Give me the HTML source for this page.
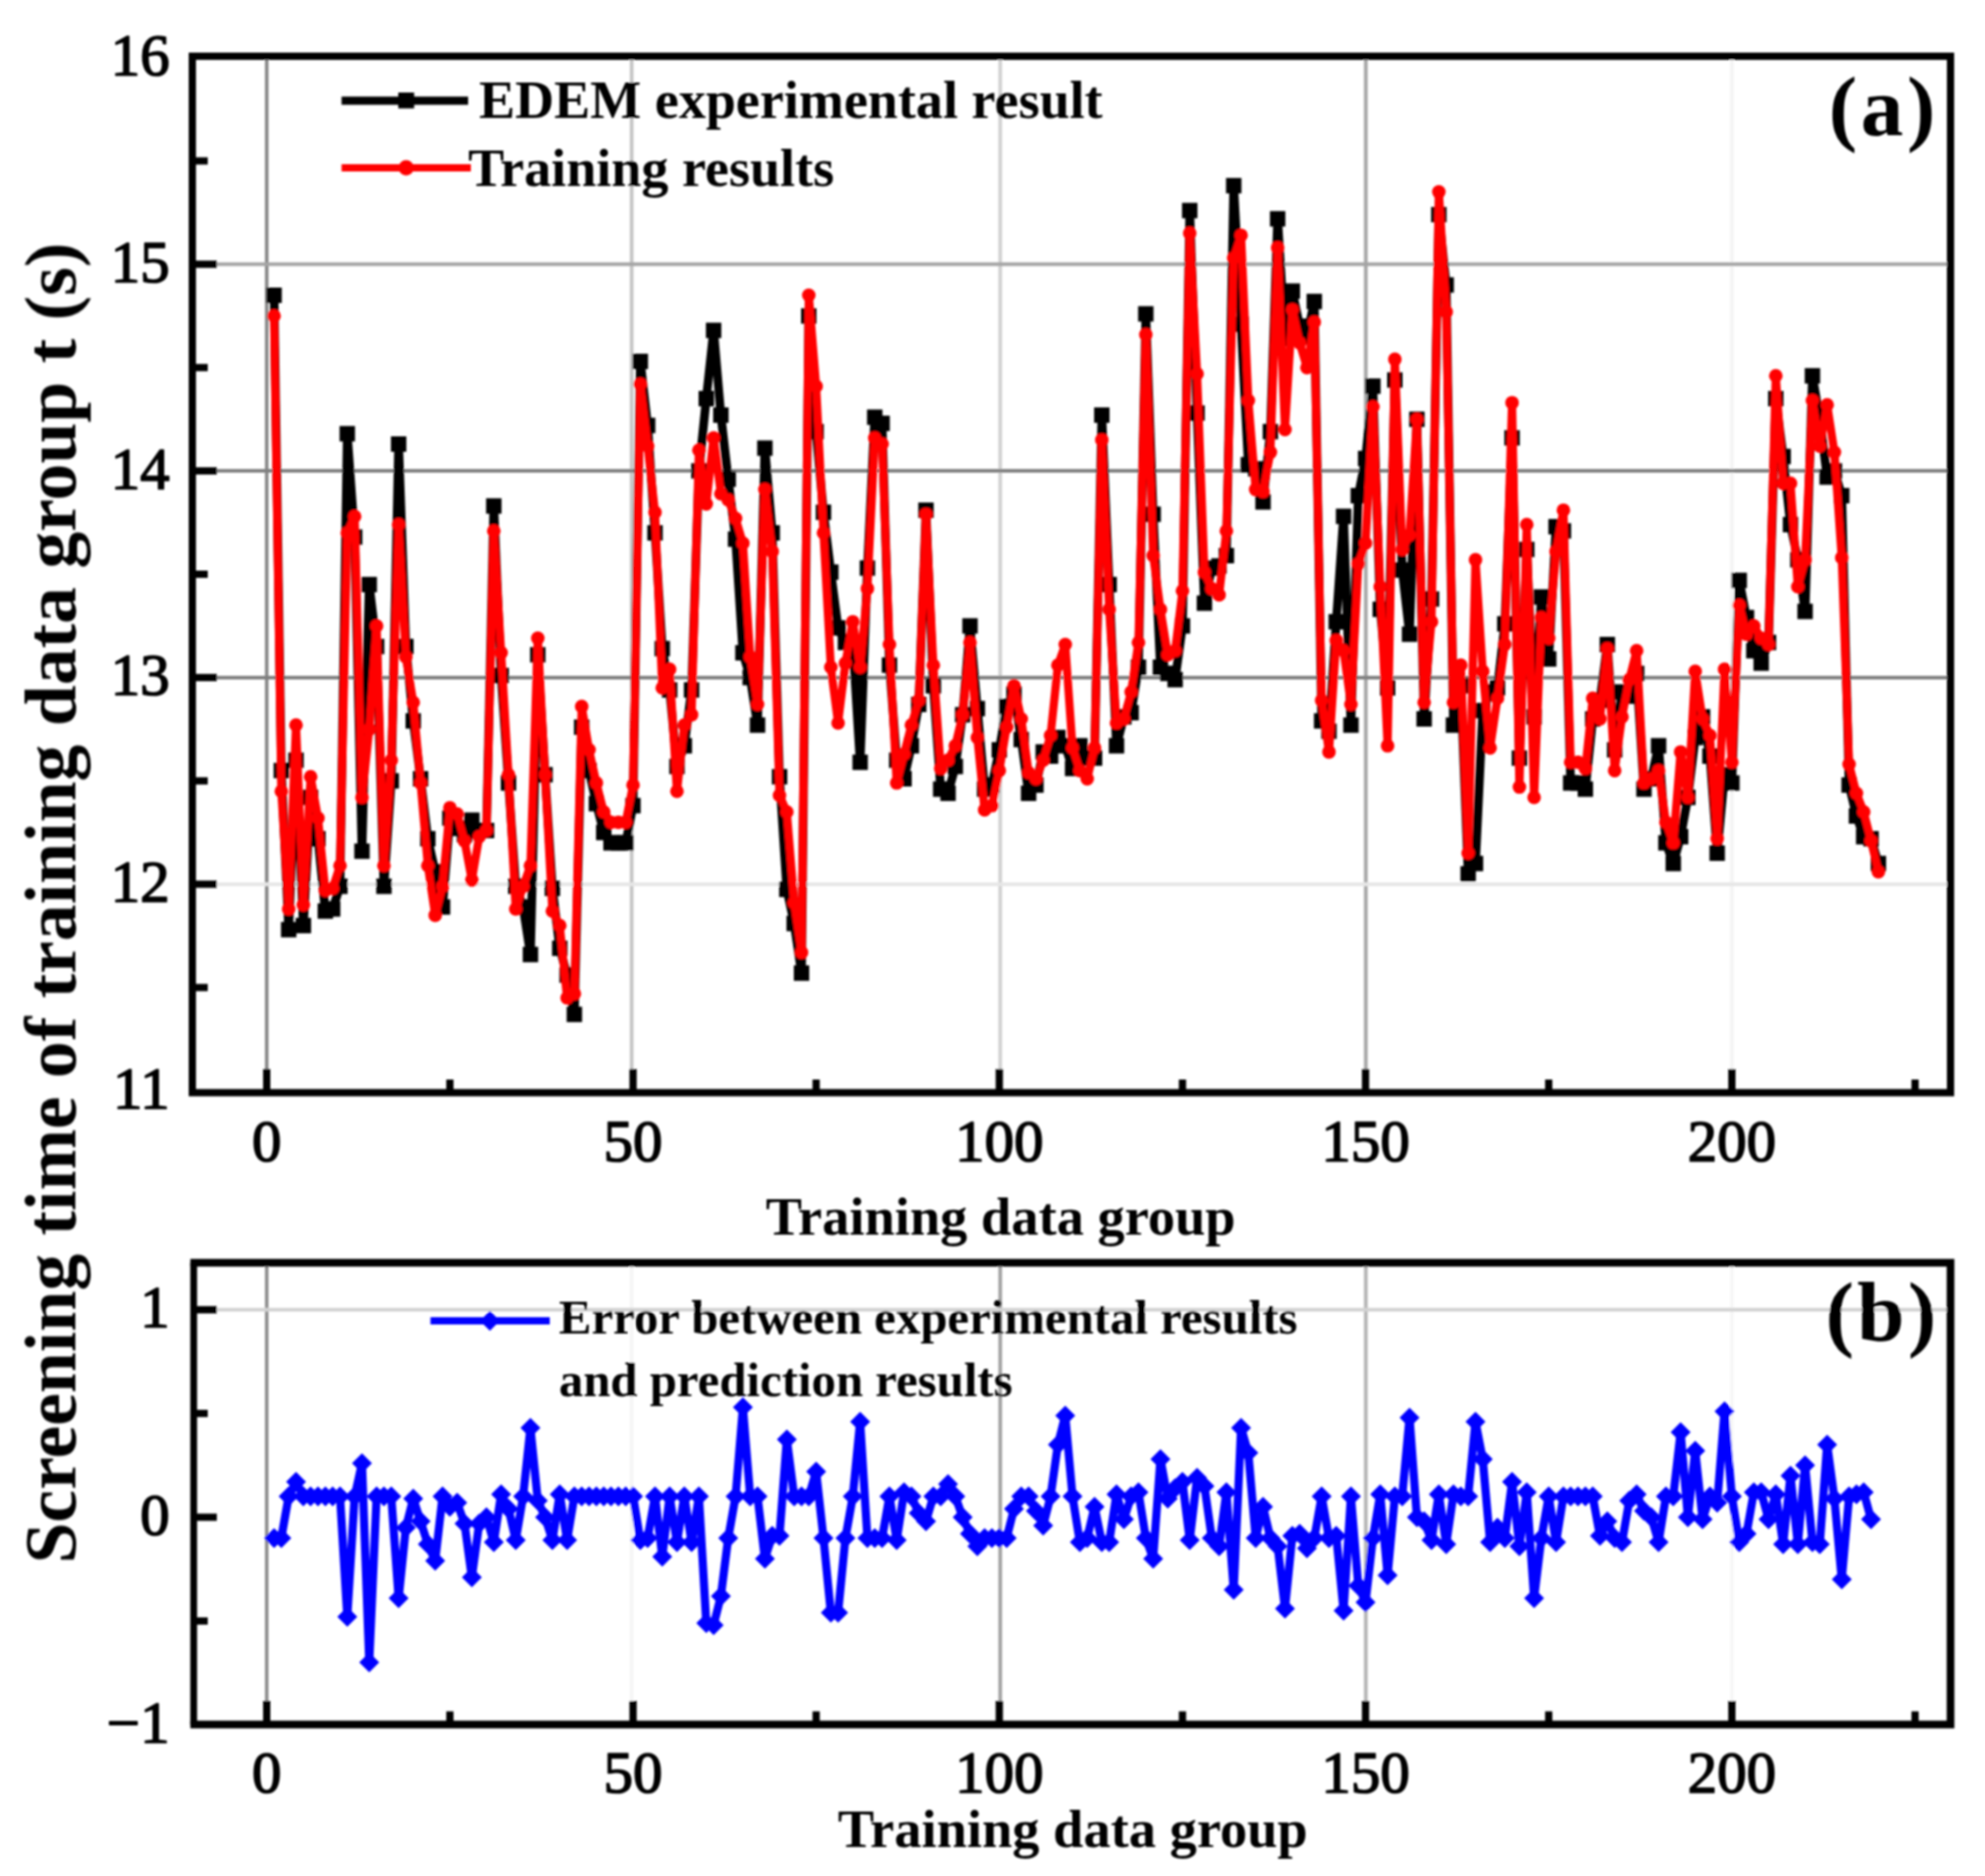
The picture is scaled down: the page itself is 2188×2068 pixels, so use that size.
<!DOCTYPE html>
<html><head><meta charset="utf-8"><title>Training results</title>
<style>
html,body{margin:0;padding:0;background:#fff;}
svg{display:block;}
text{font-family:"Liberation Serif","DejaVu Serif",serif;fill:#000;}
.b{font-weight:bold;}
.tk{font-size:65px;stroke:#000;stroke-width:1.7px;stroke-linejoin:round;}
</style></head><body>
<svg width="2188" height="2068" viewBox="0 0 2188 2068">
<defs><filter id="soft" filterUnits="userSpaceOnUse" x="0" y="0" width="2188" height="2068"><feGaussianBlur stdDeviation="1.3"/></filter></defs>
<rect width="2188" height="2068" fill="#fff"/>
<g filter="url(#soft)">

<g id="grid-top">
<line x1="294.0" y1="62" x2="294.0" y2="1204.5" stroke="#8a8a8a" stroke-width="4"/>
<line x1="696.3" y1="62" x2="696.3" y2="1204.5" stroke="#c4c4c4" stroke-width="4"/>
<line x1="1102.5" y1="62" x2="1102.5" y2="1204.5" stroke="#d0d0d0" stroke-width="4"/>
<line x1="1505.5" y1="62" x2="1505.5" y2="1204.5" stroke="#a4a4a4" stroke-width="4"/>
<line x1="1909.0" y1="62" x2="1909.0" y2="1204.5" stroke="#f4f4f4" stroke-width="4"/>
<line x1="212" y1="291.3" x2="2150" y2="291.3" stroke="#a4a4a4" stroke-width="4"/>
<line x1="212" y1="519.1" x2="2150" y2="519.1" stroke="#808080" stroke-width="4"/>
<line x1="212" y1="746.9" x2="2150" y2="746.9" stroke="#808080" stroke-width="4"/>
<line x1="212" y1="974.7" x2="2150" y2="974.7" stroke="#e6e6e6" stroke-width="4"/>
</g>
<g id="grid-bottom">
<line x1="294.0" y1="1392" x2="294.0" y2="1901" stroke="#909090" stroke-width="4"/>
<line x1="696.3" y1="1392" x2="696.3" y2="1901" stroke="#f5f5f5" stroke-width="4"/>
<line x1="1102.5" y1="1392" x2="1102.5" y2="1901" stroke="#a0a0a0" stroke-width="4"/>
<line x1="1505.5" y1="1392" x2="1505.5" y2="1901" stroke="#b4b4b4" stroke-width="4"/>
<line x1="1909.0" y1="1392" x2="1909.0" y2="1901" stroke="#f7f7f7" stroke-width="4"/>
<line x1="212" y1="1443.8" x2="2150" y2="1443.8" stroke="#d2d2d2" stroke-width="4"/>
</g>
<g id="ticks">
<line x1="294.0" y1="1204.5" x2="294.0" y2="1178.5" stroke="#000" stroke-width="8"/>
<line x1="495.9" y1="1204.5" x2="495.9" y2="1190.0" stroke="#000" stroke-width="8"/>
<line x1="697.8" y1="1204.5" x2="697.8" y2="1178.5" stroke="#000" stroke-width="8"/>
<line x1="899.6" y1="1204.5" x2="899.6" y2="1190.0" stroke="#000" stroke-width="8"/>
<line x1="1101.5" y1="1204.5" x2="1101.5" y2="1178.5" stroke="#000" stroke-width="8"/>
<line x1="1303.4" y1="1204.5" x2="1303.4" y2="1190.0" stroke="#000" stroke-width="8"/>
<line x1="1505.2" y1="1204.5" x2="1505.2" y2="1178.5" stroke="#000" stroke-width="8"/>
<line x1="1707.1" y1="1204.5" x2="1707.1" y2="1190.0" stroke="#000" stroke-width="8"/>
<line x1="1909.0" y1="1204.5" x2="1909.0" y2="1178.5" stroke="#000" stroke-width="8"/>
<line x1="2110.9" y1="1204.5" x2="2110.9" y2="1190.0" stroke="#000" stroke-width="8"/>
<line x1="212" y1="974.7" x2="239" y2="974.7" stroke="#000" stroke-width="8"/>
<line x1="212" y1="746.9" x2="239" y2="746.9" stroke="#000" stroke-width="8"/>
<line x1="212" y1="519.1" x2="239" y2="519.1" stroke="#000" stroke-width="8"/>
<line x1="212" y1="291.3" x2="239" y2="291.3" stroke="#000" stroke-width="8"/>
<line x1="212" y1="1088.6" x2="229" y2="1088.6" stroke="#000" stroke-width="8"/>
<line x1="212" y1="860.8" x2="229" y2="860.8" stroke="#000" stroke-width="8"/>
<line x1="212" y1="633.0" x2="229" y2="633.0" stroke="#000" stroke-width="8"/>
<line x1="212" y1="405.2" x2="229" y2="405.2" stroke="#000" stroke-width="8"/>
<line x1="212" y1="177.4" x2="229" y2="177.4" stroke="#000" stroke-width="8"/>
<line x1="294.0" y1="1901" x2="294.0" y2="1875" stroke="#000" stroke-width="8"/>
<line x1="495.9" y1="1901" x2="495.9" y2="1886.5" stroke="#000" stroke-width="8"/>
<line x1="697.8" y1="1901" x2="697.8" y2="1875" stroke="#000" stroke-width="8"/>
<line x1="899.6" y1="1901" x2="899.6" y2="1886.5" stroke="#000" stroke-width="8"/>
<line x1="1101.5" y1="1901" x2="1101.5" y2="1875" stroke="#000" stroke-width="8"/>
<line x1="1303.4" y1="1901" x2="1303.4" y2="1886.5" stroke="#000" stroke-width="8"/>
<line x1="1505.2" y1="1901" x2="1505.2" y2="1875" stroke="#000" stroke-width="8"/>
<line x1="1707.1" y1="1901" x2="1707.1" y2="1886.5" stroke="#000" stroke-width="8"/>
<line x1="1909.0" y1="1901" x2="1909.0" y2="1875" stroke="#000" stroke-width="8"/>
<line x1="2110.9" y1="1901" x2="2110.9" y2="1886.5" stroke="#000" stroke-width="8"/>
<line x1="212" y1="1672.5" x2="239" y2="1672.5" stroke="#000" stroke-width="8"/>
<line x1="212" y1="1443.8" x2="239" y2="1443.8" stroke="#000" stroke-width="8"/>
<line x1="212" y1="1786.9" x2="229" y2="1786.9" stroke="#000" stroke-width="8"/>
<line x1="212" y1="1558.1" x2="229" y2="1558.1" stroke="#000" stroke-width="8"/>
</g>
<g id="series-edem">
<polyline points="302.1,325.5 310.1,849.4 318.2,1024.8 326.3,838.0 334.4,1020.3 342.4,879.0 350.5,924.6 358.6,1004.3 366.7,1002.0 374.8,977.0 382.8,478.1 390.9,592.0 399.0,938.3 407.0,644.4 415.1,712.7 423.2,977.0 431.3,860.8 439.4,489.5 447.4,712.7 455.5,794.7 463.6,858.5 471.6,924.6 479.7,961.0 487.8,999.8 495.9,901.8 503.9,913.2 512.0,920.0 520.1,904.1 528.2,915.5 536.2,915.5 544.3,557.8 552.4,744.6 560.5,863.1 568.5,977.0 576.6,999.8 584.7,1052.2 592.8,721.8 600.8,854.0 608.9,979.3 617.0,1045.3 625.1,1074.9 633.1,1118.2 641.2,801.6 649.3,849.4 657.4,885.9 665.5,917.8 673.5,929.1 681.6,929.1 689.7,929.1 697.8,888.1 705.8,398.4 713.9,469.0 722.0,587.4 730.0,715.0 738.1,760.6 746.2,844.9 754.3,822.1 762.3,760.6 770.4,519.1 778.5,439.4 786.6,364.2 794.6,457.6 802.7,528.2 810.8,594.3 818.9,719.6 826.9,746.9 835.0,799.3 843.1,494.0 851.2,587.4 859.2,856.2 867.3,980.4 875.4,1018.0 883.5,1072.7 891.5,348.2 899.6,475.8 907.7,564.7 915.8,630.7 923.8,692.2 931.9,708.2 940.0,708.2 948.1,840.3 956.1,626.2 964.2,459.9 972.3,466.7 980.4,733.2 988.4,838.0 996.5,858.5 1004.6,822.1 1012.7,776.5 1020.7,562.4 1028.8,756.0 1036.9,869.9 1045.0,874.5 1053.0,844.9 1061.1,787.9 1069.2,690.0 1077.3,781.1 1085.3,869.9 1093.4,865.4 1101.5,826.6 1109.6,778.8 1117.7,765.1 1125.7,815.2 1133.8,874.5 1141.9,865.4 1149.9,828.9 1158.0,833.5 1166.1,813.0 1174.2,822.1 1182.2,847.1 1190.3,822.1 1198.4,835.7 1206.5,835.7 1214.5,457.6 1222.6,644.4 1230.7,822.1 1238.8,790.2 1246.8,785.6 1254.9,735.5 1263.0,346.0 1271.1,566.9 1279.1,735.5 1287.2,742.3 1295.3,749.2 1303.4,690.0 1311.4,232.1 1319.5,455.3 1327.6,664.9 1335.7,626.2 1343.8,623.9 1351.8,612.5 1359.9,204.7 1368.0,357.4 1376.0,512.3 1384.1,516.8 1392.2,553.3 1400.3,475.8 1408.3,241.2 1416.4,373.3 1424.5,320.9 1432.6,359.6 1440.6,371.0 1448.7,332.3 1456.8,794.7 1464.9,806.1 1472.9,685.4 1481.0,569.2 1489.1,799.3 1497.2,546.4 1505.2,505.4 1513.3,425.7 1521.4,671.7 1529.5,758.3 1537.5,418.9 1545.6,628.4 1553.7,699.1 1561.8,462.2 1569.8,792.5 1577.9,660.3 1586.0,236.6 1594.1,314.1 1602.1,799.3 1610.2,756.0 1618.3,963.3 1626.4,951.9 1634.4,783.3 1642.5,762.8 1650.6,758.3 1658.7,687.7 1666.7,482.7 1674.8,835.7 1682.9,605.7 1691.0,790.2 1699.0,658.1 1707.1,726.4 1715.2,580.6 1723.3,585.2 1731.3,863.1 1739.4,863.1 1747.5,869.9 1755.6,792.5 1763.6,772.0 1771.7,710.5 1779.8,826.6 1787.9,762.8 1795.9,767.4 1804.0,742.3 1812.1,869.9 1820.2,858.5 1828.2,822.1 1836.3,929.1 1844.4,951.9 1852.5,922.3 1860.5,879.0 1868.6,813.0 1876.7,790.2 1884.8,833.5 1892.8,940.5 1900.9,854.0 1909.0,863.1 1917.1,639.8 1925.1,680.8 1933.2,717.3 1941.3,731.0 1949.4,708.2 1957.4,439.4 1965.5,503.2 1973.6,578.3 1981.7,617.1 1989.7,674.0 1997.8,414.3 2005.9,462.2 2014.0,525.9 2022.0,519.1 2030.1,546.4 2038.2,865.4 2046.3,899.5 2054.3,922.3 2062.4,924.6 2070.5,951.9" fill="none" stroke="#000" stroke-width="9.5" stroke-linejoin="round" stroke-linecap="round"/>
<rect x="293.6" y="317.0" width="17" height="17" fill="#000"/>
<rect x="301.6" y="840.9" width="17" height="17" fill="#000"/>
<rect x="309.7" y="1016.3" width="17" height="17" fill="#000"/>
<rect x="317.8" y="829.5" width="17" height="17" fill="#000"/>
<rect x="325.9" y="1011.8" width="17" height="17" fill="#000"/>
<rect x="333.9" y="870.5" width="17" height="17" fill="#000"/>
<rect x="342.0" y="916.1" width="17" height="17" fill="#000"/>
<rect x="350.1" y="995.8" width="17" height="17" fill="#000"/>
<rect x="358.2" y="993.5" width="17" height="17" fill="#000"/>
<rect x="366.2" y="968.5" width="17" height="17" fill="#000"/>
<rect x="374.3" y="469.6" width="17" height="17" fill="#000"/>
<rect x="382.4" y="583.5" width="17" height="17" fill="#000"/>
<rect x="390.5" y="929.8" width="17" height="17" fill="#000"/>
<rect x="398.5" y="635.9" width="17" height="17" fill="#000"/>
<rect x="406.6" y="704.2" width="17" height="17" fill="#000"/>
<rect x="414.7" y="968.5" width="17" height="17" fill="#000"/>
<rect x="422.8" y="852.3" width="17" height="17" fill="#000"/>
<rect x="430.9" y="481.0" width="17" height="17" fill="#000"/>
<rect x="438.9" y="704.2" width="17" height="17" fill="#000"/>
<rect x="447.0" y="786.2" width="17" height="17" fill="#000"/>
<rect x="455.1" y="850.0" width="17" height="17" fill="#000"/>
<rect x="463.1" y="916.1" width="17" height="17" fill="#000"/>
<rect x="471.2" y="952.5" width="17" height="17" fill="#000"/>
<rect x="479.3" y="991.3" width="17" height="17" fill="#000"/>
<rect x="487.4" y="893.3" width="17" height="17" fill="#000"/>
<rect x="495.4" y="904.7" width="17" height="17" fill="#000"/>
<rect x="503.5" y="911.5" width="17" height="17" fill="#000"/>
<rect x="511.6" y="895.6" width="17" height="17" fill="#000"/>
<rect x="519.7" y="907.0" width="17" height="17" fill="#000"/>
<rect x="527.8" y="907.0" width="17" height="17" fill="#000"/>
<rect x="535.8" y="549.3" width="17" height="17" fill="#000"/>
<rect x="543.9" y="736.1" width="17" height="17" fill="#000"/>
<rect x="552.0" y="854.6" width="17" height="17" fill="#000"/>
<rect x="560.0" y="968.5" width="17" height="17" fill="#000"/>
<rect x="568.1" y="991.3" width="17" height="17" fill="#000"/>
<rect x="576.2" y="1043.7" width="17" height="17" fill="#000"/>
<rect x="584.3" y="713.3" width="17" height="17" fill="#000"/>
<rect x="592.3" y="845.5" width="17" height="17" fill="#000"/>
<rect x="600.4" y="970.8" width="17" height="17" fill="#000"/>
<rect x="608.5" y="1036.8" width="17" height="17" fill="#000"/>
<rect x="616.6" y="1066.4" width="17" height="17" fill="#000"/>
<rect x="624.6" y="1109.7" width="17" height="17" fill="#000"/>
<rect x="632.7" y="793.1" width="17" height="17" fill="#000"/>
<rect x="640.8" y="840.9" width="17" height="17" fill="#000"/>
<rect x="648.9" y="877.4" width="17" height="17" fill="#000"/>
<rect x="657.0" y="909.2" width="17" height="17" fill="#000"/>
<rect x="665.0" y="920.6" width="17" height="17" fill="#000"/>
<rect x="673.1" y="920.6" width="17" height="17" fill="#000"/>
<rect x="681.2" y="920.6" width="17" height="17" fill="#000"/>
<rect x="689.2" y="879.6" width="17" height="17" fill="#000"/>
<rect x="697.3" y="389.9" width="17" height="17" fill="#000"/>
<rect x="705.4" y="460.5" width="17" height="17" fill="#000"/>
<rect x="713.5" y="578.9" width="17" height="17" fill="#000"/>
<rect x="721.5" y="706.5" width="17" height="17" fill="#000"/>
<rect x="729.6" y="752.1" width="17" height="17" fill="#000"/>
<rect x="737.7" y="836.4" width="17" height="17" fill="#000"/>
<rect x="745.8" y="813.6" width="17" height="17" fill="#000"/>
<rect x="753.8" y="752.1" width="17" height="17" fill="#000"/>
<rect x="761.9" y="510.6" width="17" height="17" fill="#000"/>
<rect x="770.0" y="430.9" width="17" height="17" fill="#000"/>
<rect x="778.1" y="355.7" width="17" height="17" fill="#000"/>
<rect x="786.1" y="449.1" width="17" height="17" fill="#000"/>
<rect x="794.2" y="519.7" width="17" height="17" fill="#000"/>
<rect x="802.3" y="585.8" width="17" height="17" fill="#000"/>
<rect x="810.4" y="711.1" width="17" height="17" fill="#000"/>
<rect x="818.4" y="738.4" width="17" height="17" fill="#000"/>
<rect x="826.5" y="790.8" width="17" height="17" fill="#000"/>
<rect x="834.6" y="485.5" width="17" height="17" fill="#000"/>
<rect x="842.7" y="578.9" width="17" height="17" fill="#000"/>
<rect x="850.8" y="847.7" width="17" height="17" fill="#000"/>
<rect x="858.8" y="971.9" width="17" height="17" fill="#000"/>
<rect x="866.9" y="1009.5" width="17" height="17" fill="#000"/>
<rect x="875.0" y="1064.2" width="17" height="17" fill="#000"/>
<rect x="883.0" y="339.8" width="17" height="17" fill="#000"/>
<rect x="891.1" y="467.3" width="17" height="17" fill="#000"/>
<rect x="899.2" y="556.2" width="17" height="17" fill="#000"/>
<rect x="907.3" y="622.2" width="17" height="17" fill="#000"/>
<rect x="915.3" y="683.7" width="17" height="17" fill="#000"/>
<rect x="923.4" y="699.7" width="17" height="17" fill="#000"/>
<rect x="931.5" y="699.7" width="17" height="17" fill="#000"/>
<rect x="939.6" y="831.8" width="17" height="17" fill="#000"/>
<rect x="947.6" y="617.7" width="17" height="17" fill="#000"/>
<rect x="955.7" y="451.4" width="17" height="17" fill="#000"/>
<rect x="963.8" y="458.2" width="17" height="17" fill="#000"/>
<rect x="971.9" y="724.7" width="17" height="17" fill="#000"/>
<rect x="979.9" y="829.5" width="17" height="17" fill="#000"/>
<rect x="988.0" y="850.0" width="17" height="17" fill="#000"/>
<rect x="996.1" y="813.6" width="17" height="17" fill="#000"/>
<rect x="1004.2" y="768.0" width="17" height="17" fill="#000"/>
<rect x="1012.2" y="553.9" width="17" height="17" fill="#000"/>
<rect x="1020.3" y="747.5" width="17" height="17" fill="#000"/>
<rect x="1028.4" y="861.4" width="17" height="17" fill="#000"/>
<rect x="1036.5" y="866.0" width="17" height="17" fill="#000"/>
<rect x="1044.5" y="836.4" width="17" height="17" fill="#000"/>
<rect x="1052.6" y="779.4" width="17" height="17" fill="#000"/>
<rect x="1060.7" y="681.5" width="17" height="17" fill="#000"/>
<rect x="1068.8" y="772.6" width="17" height="17" fill="#000"/>
<rect x="1076.8" y="861.4" width="17" height="17" fill="#000"/>
<rect x="1084.9" y="856.9" width="17" height="17" fill="#000"/>
<rect x="1093.0" y="818.1" width="17" height="17" fill="#000"/>
<rect x="1101.1" y="770.3" width="17" height="17" fill="#000"/>
<rect x="1109.2" y="756.6" width="17" height="17" fill="#000"/>
<rect x="1117.2" y="806.7" width="17" height="17" fill="#000"/>
<rect x="1125.3" y="866.0" width="17" height="17" fill="#000"/>
<rect x="1133.4" y="856.9" width="17" height="17" fill="#000"/>
<rect x="1141.4" y="820.4" width="17" height="17" fill="#000"/>
<rect x="1149.5" y="825.0" width="17" height="17" fill="#000"/>
<rect x="1157.6" y="804.5" width="17" height="17" fill="#000"/>
<rect x="1165.7" y="813.6" width="17" height="17" fill="#000"/>
<rect x="1173.8" y="838.6" width="17" height="17" fill="#000"/>
<rect x="1181.8" y="813.6" width="17" height="17" fill="#000"/>
<rect x="1189.9" y="827.2" width="17" height="17" fill="#000"/>
<rect x="1198.0" y="827.2" width="17" height="17" fill="#000"/>
<rect x="1206.0" y="449.1" width="17" height="17" fill="#000"/>
<rect x="1214.1" y="635.9" width="17" height="17" fill="#000"/>
<rect x="1222.2" y="813.6" width="17" height="17" fill="#000"/>
<rect x="1230.3" y="781.7" width="17" height="17" fill="#000"/>
<rect x="1238.3" y="777.1" width="17" height="17" fill="#000"/>
<rect x="1246.4" y="727.0" width="17" height="17" fill="#000"/>
<rect x="1254.5" y="337.5" width="17" height="17" fill="#000"/>
<rect x="1262.6" y="558.4" width="17" height="17" fill="#000"/>
<rect x="1270.6" y="727.0" width="17" height="17" fill="#000"/>
<rect x="1278.7" y="733.8" width="17" height="17" fill="#000"/>
<rect x="1286.8" y="740.7" width="17" height="17" fill="#000"/>
<rect x="1294.9" y="681.5" width="17" height="17" fill="#000"/>
<rect x="1302.9" y="223.6" width="17" height="17" fill="#000"/>
<rect x="1311.0" y="446.8" width="17" height="17" fill="#000"/>
<rect x="1319.1" y="656.4" width="17" height="17" fill="#000"/>
<rect x="1327.2" y="617.7" width="17" height="17" fill="#000"/>
<rect x="1335.2" y="615.4" width="17" height="17" fill="#000"/>
<rect x="1343.3" y="604.0" width="17" height="17" fill="#000"/>
<rect x="1351.4" y="196.2" width="17" height="17" fill="#000"/>
<rect x="1359.5" y="348.9" width="17" height="17" fill="#000"/>
<rect x="1367.5" y="503.8" width="17" height="17" fill="#000"/>
<rect x="1375.6" y="508.3" width="17" height="17" fill="#000"/>
<rect x="1383.7" y="544.8" width="17" height="17" fill="#000"/>
<rect x="1391.8" y="467.3" width="17" height="17" fill="#000"/>
<rect x="1399.8" y="232.7" width="17" height="17" fill="#000"/>
<rect x="1407.9" y="364.8" width="17" height="17" fill="#000"/>
<rect x="1416.0" y="312.4" width="17" height="17" fill="#000"/>
<rect x="1424.1" y="351.1" width="17" height="17" fill="#000"/>
<rect x="1432.1" y="362.5" width="17" height="17" fill="#000"/>
<rect x="1440.2" y="323.8" width="17" height="17" fill="#000"/>
<rect x="1448.3" y="786.2" width="17" height="17" fill="#000"/>
<rect x="1456.4" y="797.6" width="17" height="17" fill="#000"/>
<rect x="1464.4" y="676.9" width="17" height="17" fill="#000"/>
<rect x="1472.5" y="560.7" width="17" height="17" fill="#000"/>
<rect x="1480.6" y="790.8" width="17" height="17" fill="#000"/>
<rect x="1488.7" y="537.9" width="17" height="17" fill="#000"/>
<rect x="1496.8" y="496.9" width="17" height="17" fill="#000"/>
<rect x="1504.8" y="417.2" width="17" height="17" fill="#000"/>
<rect x="1512.9" y="663.2" width="17" height="17" fill="#000"/>
<rect x="1521.0" y="749.8" width="17" height="17" fill="#000"/>
<rect x="1529.0" y="410.4" width="17" height="17" fill="#000"/>
<rect x="1537.1" y="619.9" width="17" height="17" fill="#000"/>
<rect x="1545.2" y="690.6" width="17" height="17" fill="#000"/>
<rect x="1553.3" y="453.7" width="17" height="17" fill="#000"/>
<rect x="1561.3" y="784.0" width="17" height="17" fill="#000"/>
<rect x="1569.4" y="651.8" width="17" height="17" fill="#000"/>
<rect x="1577.5" y="228.1" width="17" height="17" fill="#000"/>
<rect x="1585.6" y="305.6" width="17" height="17" fill="#000"/>
<rect x="1593.6" y="790.8" width="17" height="17" fill="#000"/>
<rect x="1601.7" y="747.5" width="17" height="17" fill="#000"/>
<rect x="1609.8" y="954.8" width="17" height="17" fill="#000"/>
<rect x="1617.9" y="943.4" width="17" height="17" fill="#000"/>
<rect x="1625.9" y="774.8" width="17" height="17" fill="#000"/>
<rect x="1634.0" y="754.3" width="17" height="17" fill="#000"/>
<rect x="1642.1" y="749.8" width="17" height="17" fill="#000"/>
<rect x="1650.2" y="679.2" width="17" height="17" fill="#000"/>
<rect x="1658.2" y="474.2" width="17" height="17" fill="#000"/>
<rect x="1666.3" y="827.2" width="17" height="17" fill="#000"/>
<rect x="1674.4" y="597.2" width="17" height="17" fill="#000"/>
<rect x="1682.5" y="781.7" width="17" height="17" fill="#000"/>
<rect x="1690.5" y="649.6" width="17" height="17" fill="#000"/>
<rect x="1698.6" y="717.9" width="17" height="17" fill="#000"/>
<rect x="1706.7" y="572.1" width="17" height="17" fill="#000"/>
<rect x="1714.8" y="576.7" width="17" height="17" fill="#000"/>
<rect x="1722.8" y="854.6" width="17" height="17" fill="#000"/>
<rect x="1730.9" y="854.6" width="17" height="17" fill="#000"/>
<rect x="1739.0" y="861.4" width="17" height="17" fill="#000"/>
<rect x="1747.1" y="784.0" width="17" height="17" fill="#000"/>
<rect x="1755.1" y="763.5" width="17" height="17" fill="#000"/>
<rect x="1763.2" y="702.0" width="17" height="17" fill="#000"/>
<rect x="1771.3" y="818.1" width="17" height="17" fill="#000"/>
<rect x="1779.4" y="754.3" width="17" height="17" fill="#000"/>
<rect x="1787.4" y="758.9" width="17" height="17" fill="#000"/>
<rect x="1795.5" y="733.8" width="17" height="17" fill="#000"/>
<rect x="1803.6" y="861.4" width="17" height="17" fill="#000"/>
<rect x="1811.7" y="850.0" width="17" height="17" fill="#000"/>
<rect x="1819.7" y="813.6" width="17" height="17" fill="#000"/>
<rect x="1827.8" y="920.6" width="17" height="17" fill="#000"/>
<rect x="1835.9" y="943.4" width="17" height="17" fill="#000"/>
<rect x="1844.0" y="913.8" width="17" height="17" fill="#000"/>
<rect x="1852.0" y="870.5" width="17" height="17" fill="#000"/>
<rect x="1860.1" y="804.5" width="17" height="17" fill="#000"/>
<rect x="1868.2" y="781.7" width="17" height="17" fill="#000"/>
<rect x="1876.3" y="825.0" width="17" height="17" fill="#000"/>
<rect x="1884.3" y="932.0" width="17" height="17" fill="#000"/>
<rect x="1892.4" y="845.5" width="17" height="17" fill="#000"/>
<rect x="1900.5" y="854.6" width="17" height="17" fill="#000"/>
<rect x="1908.6" y="631.3" width="17" height="17" fill="#000"/>
<rect x="1916.6" y="672.3" width="17" height="17" fill="#000"/>
<rect x="1924.7" y="708.8" width="17" height="17" fill="#000"/>
<rect x="1932.8" y="722.5" width="17" height="17" fill="#000"/>
<rect x="1940.9" y="699.7" width="17" height="17" fill="#000"/>
<rect x="1948.9" y="430.9" width="17" height="17" fill="#000"/>
<rect x="1957.0" y="494.7" width="17" height="17" fill="#000"/>
<rect x="1965.1" y="569.8" width="17" height="17" fill="#000"/>
<rect x="1973.2" y="608.6" width="17" height="17" fill="#000"/>
<rect x="1981.2" y="665.5" width="17" height="17" fill="#000"/>
<rect x="1989.3" y="405.8" width="17" height="17" fill="#000"/>
<rect x="1997.4" y="453.7" width="17" height="17" fill="#000"/>
<rect x="2005.5" y="517.4" width="17" height="17" fill="#000"/>
<rect x="2013.5" y="510.6" width="17" height="17" fill="#000"/>
<rect x="2021.6" y="537.9" width="17" height="17" fill="#000"/>
<rect x="2029.7" y="856.9" width="17" height="17" fill="#000"/>
<rect x="2037.8" y="891.0" width="17" height="17" fill="#000"/>
<rect x="2045.8" y="913.8" width="17" height="17" fill="#000"/>
<rect x="2053.9" y="916.1" width="17" height="17" fill="#000"/>
<rect x="2062.0" y="943.4" width="17" height="17" fill="#000"/>
</g>
<g id="series-train">
<polyline points="302.1,348.2 310.1,872.2 318.2,1002.0 326.3,799.3 334.4,997.5 342.4,856.2 350.5,901.8 358.6,981.5 366.7,979.3 374.8,954.2 382.8,587.4 390.9,569.2 399.0,879.0 407.0,803.9 415.1,690.0 423.2,954.2 431.3,838.0 439.4,578.3 447.4,724.1 455.5,774.2 463.6,863.1 471.6,954.2 479.7,1008.9 487.8,977.0 495.9,890.4 503.9,897.2 512.0,926.9 520.1,970.1 528.2,922.3 536.2,915.5 544.3,585.2 552.4,719.6 560.5,854.0 568.5,1002.0 576.6,977.0 584.7,954.2 592.8,703.6 600.8,854.0 608.9,1004.3 617.0,1020.3 625.1,1100.0 633.1,1095.4 641.2,778.8 649.3,826.6 657.4,863.1 665.5,895.0 673.5,906.4 681.6,906.4 689.7,906.4 697.8,865.4 705.8,423.4 713.9,491.8 722.0,564.7 730.0,758.3 738.1,737.8 746.2,872.2 754.3,799.3 762.3,787.9 770.4,496.3 778.5,555.5 786.6,482.7 794.6,544.2 802.7,551.0 810.8,571.5 818.9,598.8 826.9,724.1 835.0,776.5 843.1,539.6 851.2,607.9 859.2,876.7 867.3,895.0 875.4,995.2 883.5,1049.9 891.5,325.5 899.6,425.7 907.7,587.4 915.8,735.5 923.8,797.0 931.9,731.0 940.0,685.4 948.1,735.5 956.1,648.9 964.2,482.7 972.3,489.5 980.4,710.5 988.4,863.1 996.5,831.2 1004.6,799.3 1012.7,772.0 1020.7,566.9 1028.8,733.2 1036.9,847.1 1045.0,838.0 1053.0,822.1 1061.1,787.9 1069.2,708.2 1077.3,813.0 1085.3,892.7 1093.4,888.1 1101.5,849.4 1109.6,801.6 1117.7,756.0 1125.7,792.5 1133.8,851.7 1141.9,858.5 1149.9,838.0 1158.0,810.7 1166.1,733.2 1174.2,710.5 1182.2,824.4 1190.3,849.4 1198.4,858.5 1206.5,824.4 1214.5,484.9 1222.6,671.7 1230.7,797.0 1238.8,792.5 1246.8,762.8 1254.9,708.2 1263.0,368.8 1271.1,612.5 1279.1,671.7 1287.2,721.8 1295.3,717.3 1303.4,651.2 1311.4,257.1 1319.5,412.0 1327.6,630.7 1335.7,648.9 1343.8,655.8 1351.8,585.2 1359.9,284.5 1368.0,259.4 1376.0,441.6 1384.1,539.6 1392.2,541.9 1400.3,498.6 1408.3,273.1 1416.4,473.5 1424.5,341.4 1432.6,377.9 1440.6,405.2 1448.7,355.1 1456.8,772.0 1464.9,828.9 1472.9,705.9 1481.0,717.3 1489.1,776.5 1497.2,621.6 1505.2,598.8 1513.3,448.5 1521.4,646.7 1529.5,822.1 1537.5,396.1 1545.6,605.7 1553.7,589.7 1561.8,462.2 1569.8,774.2 1577.9,685.4 1586.0,211.6 1594.1,343.7 1602.1,774.2 1610.2,733.2 1618.3,940.5 1626.4,617.1 1634.4,740.1 1642.5,824.4 1650.6,769.7 1658.7,710.5 1666.7,443.9 1674.8,867.6 1682.9,578.3 1691.0,879.0 1699.0,680.8 1707.1,703.6 1715.2,607.9 1723.3,562.4 1731.3,840.3 1739.4,840.3 1747.5,847.1 1755.6,769.7 1763.6,792.5 1771.7,715.0 1779.8,849.4 1787.9,790.2 1795.9,749.2 1804.0,717.3 1812.1,863.1 1820.2,858.5 1828.2,849.4 1836.3,906.4 1844.4,929.1 1852.5,828.9 1860.5,879.0 1868.6,740.1 1876.7,792.5 1884.8,810.7 1892.8,924.6 1900.9,737.8 1909.0,840.3 1917.1,667.2 1925.1,699.1 1933.2,690.0 1941.3,703.6 1949.4,710.5 1957.4,414.3 1965.5,532.8 1973.6,532.8 1981.7,646.7 1989.7,617.1 1997.8,441.6 2005.9,491.8 2014.0,446.2 2022.0,498.6 2030.1,614.8 2038.2,842.6 2046.3,874.5 2054.3,895.0 2062.4,926.9 2070.5,961.0" fill="none" stroke="#f00" stroke-width="9" stroke-linejoin="round" stroke-linecap="round"/>
<circle cx="302.1" cy="348.2" r="7.5" fill="#f00"/>
<circle cx="310.1" cy="872.2" r="7.5" fill="#f00"/>
<circle cx="318.2" cy="1002.0" r="7.5" fill="#f00"/>
<circle cx="326.3" cy="799.3" r="7.5" fill="#f00"/>
<circle cx="334.4" cy="997.5" r="7.5" fill="#f00"/>
<circle cx="342.4" cy="856.2" r="7.5" fill="#f00"/>
<circle cx="350.5" cy="901.8" r="7.5" fill="#f00"/>
<circle cx="358.6" cy="981.5" r="7.5" fill="#f00"/>
<circle cx="366.7" cy="979.3" r="7.5" fill="#f00"/>
<circle cx="374.8" cy="954.2" r="7.5" fill="#f00"/>
<circle cx="382.8" cy="587.4" r="7.5" fill="#f00"/>
<circle cx="390.9" cy="569.2" r="7.5" fill="#f00"/>
<circle cx="399.0" cy="879.0" r="7.5" fill="#f00"/>
<circle cx="407.0" cy="803.9" r="7.5" fill="#f00"/>
<circle cx="415.1" cy="690.0" r="7.5" fill="#f00"/>
<circle cx="423.2" cy="954.2" r="7.5" fill="#f00"/>
<circle cx="431.3" cy="838.0" r="7.5" fill="#f00"/>
<circle cx="439.4" cy="578.3" r="7.5" fill="#f00"/>
<circle cx="447.4" cy="724.1" r="7.5" fill="#f00"/>
<circle cx="455.5" cy="774.2" r="7.5" fill="#f00"/>
<circle cx="463.6" cy="863.1" r="7.5" fill="#f00"/>
<circle cx="471.6" cy="954.2" r="7.5" fill="#f00"/>
<circle cx="479.7" cy="1008.9" r="7.5" fill="#f00"/>
<circle cx="487.8" cy="977.0" r="7.5" fill="#f00"/>
<circle cx="495.9" cy="890.4" r="7.5" fill="#f00"/>
<circle cx="503.9" cy="897.2" r="7.5" fill="#f00"/>
<circle cx="512.0" cy="926.9" r="7.5" fill="#f00"/>
<circle cx="520.1" cy="970.1" r="7.5" fill="#f00"/>
<circle cx="528.2" cy="922.3" r="7.5" fill="#f00"/>
<circle cx="536.2" cy="915.5" r="7.5" fill="#f00"/>
<circle cx="544.3" cy="585.2" r="7.5" fill="#f00"/>
<circle cx="552.4" cy="719.6" r="7.5" fill="#f00"/>
<circle cx="560.5" cy="854.0" r="7.5" fill="#f00"/>
<circle cx="568.5" cy="1002.0" r="7.5" fill="#f00"/>
<circle cx="576.6" cy="977.0" r="7.5" fill="#f00"/>
<circle cx="584.7" cy="954.2" r="7.5" fill="#f00"/>
<circle cx="592.8" cy="703.6" r="7.5" fill="#f00"/>
<circle cx="600.8" cy="854.0" r="7.5" fill="#f00"/>
<circle cx="608.9" cy="1004.3" r="7.5" fill="#f00"/>
<circle cx="617.0" cy="1020.3" r="7.5" fill="#f00"/>
<circle cx="625.1" cy="1100.0" r="7.5" fill="#f00"/>
<circle cx="633.1" cy="1095.4" r="7.5" fill="#f00"/>
<circle cx="641.2" cy="778.8" r="7.5" fill="#f00"/>
<circle cx="649.3" cy="826.6" r="7.5" fill="#f00"/>
<circle cx="657.4" cy="863.1" r="7.5" fill="#f00"/>
<circle cx="665.5" cy="895.0" r="7.5" fill="#f00"/>
<circle cx="673.5" cy="906.4" r="7.5" fill="#f00"/>
<circle cx="681.6" cy="906.4" r="7.5" fill="#f00"/>
<circle cx="689.7" cy="906.4" r="7.5" fill="#f00"/>
<circle cx="697.8" cy="865.4" r="7.5" fill="#f00"/>
<circle cx="705.8" cy="423.4" r="7.5" fill="#f00"/>
<circle cx="713.9" cy="491.8" r="7.5" fill="#f00"/>
<circle cx="722.0" cy="564.7" r="7.5" fill="#f00"/>
<circle cx="730.0" cy="758.3" r="7.5" fill="#f00"/>
<circle cx="738.1" cy="737.8" r="7.5" fill="#f00"/>
<circle cx="746.2" cy="872.2" r="7.5" fill="#f00"/>
<circle cx="754.3" cy="799.3" r="7.5" fill="#f00"/>
<circle cx="762.3" cy="787.9" r="7.5" fill="#f00"/>
<circle cx="770.4" cy="496.3" r="7.5" fill="#f00"/>
<circle cx="778.5" cy="555.5" r="7.5" fill="#f00"/>
<circle cx="786.6" cy="482.7" r="7.5" fill="#f00"/>
<circle cx="794.6" cy="544.2" r="7.5" fill="#f00"/>
<circle cx="802.7" cy="551.0" r="7.5" fill="#f00"/>
<circle cx="810.8" cy="571.5" r="7.5" fill="#f00"/>
<circle cx="818.9" cy="598.8" r="7.5" fill="#f00"/>
<circle cx="826.9" cy="724.1" r="7.5" fill="#f00"/>
<circle cx="835.0" cy="776.5" r="7.5" fill="#f00"/>
<circle cx="843.1" cy="539.6" r="7.5" fill="#f00"/>
<circle cx="851.2" cy="607.9" r="7.5" fill="#f00"/>
<circle cx="859.2" cy="876.7" r="7.5" fill="#f00"/>
<circle cx="867.3" cy="895.0" r="7.5" fill="#f00"/>
<circle cx="875.4" cy="995.2" r="7.5" fill="#f00"/>
<circle cx="883.5" cy="1049.9" r="7.5" fill="#f00"/>
<circle cx="891.5" cy="325.5" r="7.5" fill="#f00"/>
<circle cx="899.6" cy="425.7" r="7.5" fill="#f00"/>
<circle cx="907.7" cy="587.4" r="7.5" fill="#f00"/>
<circle cx="915.8" cy="735.5" r="7.5" fill="#f00"/>
<circle cx="923.8" cy="797.0" r="7.5" fill="#f00"/>
<circle cx="931.9" cy="731.0" r="7.5" fill="#f00"/>
<circle cx="940.0" cy="685.4" r="7.5" fill="#f00"/>
<circle cx="948.1" cy="735.5" r="7.5" fill="#f00"/>
<circle cx="956.1" cy="648.9" r="7.5" fill="#f00"/>
<circle cx="964.2" cy="482.7" r="7.5" fill="#f00"/>
<circle cx="972.3" cy="489.5" r="7.5" fill="#f00"/>
<circle cx="980.4" cy="710.5" r="7.5" fill="#f00"/>
<circle cx="988.4" cy="863.1" r="7.5" fill="#f00"/>
<circle cx="996.5" cy="831.2" r="7.5" fill="#f00"/>
<circle cx="1004.6" cy="799.3" r="7.5" fill="#f00"/>
<circle cx="1012.7" cy="772.0" r="7.5" fill="#f00"/>
<circle cx="1020.7" cy="566.9" r="7.5" fill="#f00"/>
<circle cx="1028.8" cy="733.2" r="7.5" fill="#f00"/>
<circle cx="1036.9" cy="847.1" r="7.5" fill="#f00"/>
<circle cx="1045.0" cy="838.0" r="7.5" fill="#f00"/>
<circle cx="1053.0" cy="822.1" r="7.5" fill="#f00"/>
<circle cx="1061.1" cy="787.9" r="7.5" fill="#f00"/>
<circle cx="1069.2" cy="708.2" r="7.5" fill="#f00"/>
<circle cx="1077.3" cy="813.0" r="7.5" fill="#f00"/>
<circle cx="1085.3" cy="892.7" r="7.5" fill="#f00"/>
<circle cx="1093.4" cy="888.1" r="7.5" fill="#f00"/>
<circle cx="1101.5" cy="849.4" r="7.5" fill="#f00"/>
<circle cx="1109.6" cy="801.6" r="7.5" fill="#f00"/>
<circle cx="1117.7" cy="756.0" r="7.5" fill="#f00"/>
<circle cx="1125.7" cy="792.5" r="7.5" fill="#f00"/>
<circle cx="1133.8" cy="851.7" r="7.5" fill="#f00"/>
<circle cx="1141.9" cy="858.5" r="7.5" fill="#f00"/>
<circle cx="1149.9" cy="838.0" r="7.5" fill="#f00"/>
<circle cx="1158.0" cy="810.7" r="7.5" fill="#f00"/>
<circle cx="1166.1" cy="733.2" r="7.5" fill="#f00"/>
<circle cx="1174.2" cy="710.5" r="7.5" fill="#f00"/>
<circle cx="1182.2" cy="824.4" r="7.5" fill="#f00"/>
<circle cx="1190.3" cy="849.4" r="7.5" fill="#f00"/>
<circle cx="1198.4" cy="858.5" r="7.5" fill="#f00"/>
<circle cx="1206.5" cy="824.4" r="7.5" fill="#f00"/>
<circle cx="1214.5" cy="484.9" r="7.5" fill="#f00"/>
<circle cx="1222.6" cy="671.7" r="7.5" fill="#f00"/>
<circle cx="1230.7" cy="797.0" r="7.5" fill="#f00"/>
<circle cx="1238.8" cy="792.5" r="7.5" fill="#f00"/>
<circle cx="1246.8" cy="762.8" r="7.5" fill="#f00"/>
<circle cx="1254.9" cy="708.2" r="7.5" fill="#f00"/>
<circle cx="1263.0" cy="368.8" r="7.5" fill="#f00"/>
<circle cx="1271.1" cy="612.5" r="7.5" fill="#f00"/>
<circle cx="1279.1" cy="671.7" r="7.5" fill="#f00"/>
<circle cx="1287.2" cy="721.8" r="7.5" fill="#f00"/>
<circle cx="1295.3" cy="717.3" r="7.5" fill="#f00"/>
<circle cx="1303.4" cy="651.2" r="7.5" fill="#f00"/>
<circle cx="1311.4" cy="257.1" r="7.5" fill="#f00"/>
<circle cx="1319.5" cy="412.0" r="7.5" fill="#f00"/>
<circle cx="1327.6" cy="630.7" r="7.5" fill="#f00"/>
<circle cx="1335.7" cy="648.9" r="7.5" fill="#f00"/>
<circle cx="1343.8" cy="655.8" r="7.5" fill="#f00"/>
<circle cx="1351.8" cy="585.2" r="7.5" fill="#f00"/>
<circle cx="1359.9" cy="284.5" r="7.5" fill="#f00"/>
<circle cx="1368.0" cy="259.4" r="7.5" fill="#f00"/>
<circle cx="1376.0" cy="441.6" r="7.5" fill="#f00"/>
<circle cx="1384.1" cy="539.6" r="7.5" fill="#f00"/>
<circle cx="1392.2" cy="541.9" r="7.5" fill="#f00"/>
<circle cx="1400.3" cy="498.6" r="7.5" fill="#f00"/>
<circle cx="1408.3" cy="273.1" r="7.5" fill="#f00"/>
<circle cx="1416.4" cy="473.5" r="7.5" fill="#f00"/>
<circle cx="1424.5" cy="341.4" r="7.5" fill="#f00"/>
<circle cx="1432.6" cy="377.9" r="7.5" fill="#f00"/>
<circle cx="1440.6" cy="405.2" r="7.5" fill="#f00"/>
<circle cx="1448.7" cy="355.1" r="7.5" fill="#f00"/>
<circle cx="1456.8" cy="772.0" r="7.5" fill="#f00"/>
<circle cx="1464.9" cy="828.9" r="7.5" fill="#f00"/>
<circle cx="1472.9" cy="705.9" r="7.5" fill="#f00"/>
<circle cx="1481.0" cy="717.3" r="7.5" fill="#f00"/>
<circle cx="1489.1" cy="776.5" r="7.5" fill="#f00"/>
<circle cx="1497.2" cy="621.6" r="7.5" fill="#f00"/>
<circle cx="1505.2" cy="598.8" r="7.5" fill="#f00"/>
<circle cx="1513.3" cy="448.5" r="7.5" fill="#f00"/>
<circle cx="1521.4" cy="646.7" r="7.5" fill="#f00"/>
<circle cx="1529.5" cy="822.1" r="7.5" fill="#f00"/>
<circle cx="1537.5" cy="396.1" r="7.5" fill="#f00"/>
<circle cx="1545.6" cy="605.7" r="7.5" fill="#f00"/>
<circle cx="1553.7" cy="589.7" r="7.5" fill="#f00"/>
<circle cx="1561.8" cy="462.2" r="7.5" fill="#f00"/>
<circle cx="1569.8" cy="774.2" r="7.5" fill="#f00"/>
<circle cx="1577.9" cy="685.4" r="7.5" fill="#f00"/>
<circle cx="1586.0" cy="211.6" r="7.5" fill="#f00"/>
<circle cx="1594.1" cy="343.7" r="7.5" fill="#f00"/>
<circle cx="1602.1" cy="774.2" r="7.5" fill="#f00"/>
<circle cx="1610.2" cy="733.2" r="7.5" fill="#f00"/>
<circle cx="1618.3" cy="940.5" r="7.5" fill="#f00"/>
<circle cx="1626.4" cy="617.1" r="7.5" fill="#f00"/>
<circle cx="1634.4" cy="740.1" r="7.5" fill="#f00"/>
<circle cx="1642.5" cy="824.4" r="7.5" fill="#f00"/>
<circle cx="1650.6" cy="769.7" r="7.5" fill="#f00"/>
<circle cx="1658.7" cy="710.5" r="7.5" fill="#f00"/>
<circle cx="1666.7" cy="443.9" r="7.5" fill="#f00"/>
<circle cx="1674.8" cy="867.6" r="7.5" fill="#f00"/>
<circle cx="1682.9" cy="578.3" r="7.5" fill="#f00"/>
<circle cx="1691.0" cy="879.0" r="7.5" fill="#f00"/>
<circle cx="1699.0" cy="680.8" r="7.5" fill="#f00"/>
<circle cx="1707.1" cy="703.6" r="7.5" fill="#f00"/>
<circle cx="1715.2" cy="607.9" r="7.5" fill="#f00"/>
<circle cx="1723.3" cy="562.4" r="7.5" fill="#f00"/>
<circle cx="1731.3" cy="840.3" r="7.5" fill="#f00"/>
<circle cx="1739.4" cy="840.3" r="7.5" fill="#f00"/>
<circle cx="1747.5" cy="847.1" r="7.5" fill="#f00"/>
<circle cx="1755.6" cy="769.7" r="7.5" fill="#f00"/>
<circle cx="1763.6" cy="792.5" r="7.5" fill="#f00"/>
<circle cx="1771.7" cy="715.0" r="7.5" fill="#f00"/>
<circle cx="1779.8" cy="849.4" r="7.5" fill="#f00"/>
<circle cx="1787.9" cy="790.2" r="7.5" fill="#f00"/>
<circle cx="1795.9" cy="749.2" r="7.5" fill="#f00"/>
<circle cx="1804.0" cy="717.3" r="7.5" fill="#f00"/>
<circle cx="1812.1" cy="863.1" r="7.5" fill="#f00"/>
<circle cx="1820.2" cy="858.5" r="7.5" fill="#f00"/>
<circle cx="1828.2" cy="849.4" r="7.5" fill="#f00"/>
<circle cx="1836.3" cy="906.4" r="7.5" fill="#f00"/>
<circle cx="1844.4" cy="929.1" r="7.5" fill="#f00"/>
<circle cx="1852.5" cy="828.9" r="7.5" fill="#f00"/>
<circle cx="1860.5" cy="879.0" r="7.5" fill="#f00"/>
<circle cx="1868.6" cy="740.1" r="7.5" fill="#f00"/>
<circle cx="1876.7" cy="792.5" r="7.5" fill="#f00"/>
<circle cx="1884.8" cy="810.7" r="7.5" fill="#f00"/>
<circle cx="1892.8" cy="924.6" r="7.5" fill="#f00"/>
<circle cx="1900.9" cy="737.8" r="7.5" fill="#f00"/>
<circle cx="1909.0" cy="840.3" r="7.5" fill="#f00"/>
<circle cx="1917.1" cy="667.2" r="7.5" fill="#f00"/>
<circle cx="1925.1" cy="699.1" r="7.5" fill="#f00"/>
<circle cx="1933.2" cy="690.0" r="7.5" fill="#f00"/>
<circle cx="1941.3" cy="703.6" r="7.5" fill="#f00"/>
<circle cx="1949.4" cy="710.5" r="7.5" fill="#f00"/>
<circle cx="1957.4" cy="414.3" r="7.5" fill="#f00"/>
<circle cx="1965.5" cy="532.8" r="7.5" fill="#f00"/>
<circle cx="1973.6" cy="532.8" r="7.5" fill="#f00"/>
<circle cx="1981.7" cy="646.7" r="7.5" fill="#f00"/>
<circle cx="1989.7" cy="617.1" r="7.5" fill="#f00"/>
<circle cx="1997.8" cy="441.6" r="7.5" fill="#f00"/>
<circle cx="2005.9" cy="491.8" r="7.5" fill="#f00"/>
<circle cx="2014.0" cy="446.2" r="7.5" fill="#f00"/>
<circle cx="2022.0" cy="498.6" r="7.5" fill="#f00"/>
<circle cx="2030.1" cy="614.8" r="7.5" fill="#f00"/>
<circle cx="2038.2" cy="842.6" r="7.5" fill="#f00"/>
<circle cx="2046.3" cy="874.5" r="7.5" fill="#f00"/>
<circle cx="2054.3" cy="895.0" r="7.5" fill="#f00"/>
<circle cx="2062.4" cy="926.9" r="7.5" fill="#f00"/>
<circle cx="2070.5" cy="961.0" r="7.5" fill="#f00"/>
</g>
<g id="series-error">
<polyline points="302.1,1695.4 310.1,1695.4 318.2,1649.6 326.3,1633.6 334.4,1649.6 342.4,1649.6 350.5,1649.6 358.6,1649.6 366.7,1649.6 374.8,1649.6 382.8,1782.3 390.9,1649.6 399.0,1613.0 407.0,1832.6 415.1,1649.6 423.2,1649.6 431.3,1649.6 439.4,1761.7 447.4,1683.9 455.5,1651.9 463.6,1677.1 471.6,1702.2 479.7,1720.5 487.8,1649.6 495.9,1661.1 503.9,1656.5 512.0,1679.4 520.1,1738.8 528.2,1679.4 536.2,1672.5 544.3,1700.0 552.4,1647.3 560.5,1663.3 568.5,1697.7 576.6,1649.6 584.7,1574.1 592.8,1654.2 600.8,1672.5 608.9,1697.7 617.0,1647.3 625.1,1697.7 633.1,1649.6 641.2,1649.6 649.3,1649.6 657.4,1649.6 665.5,1649.6 673.5,1649.6 681.6,1649.6 689.7,1649.6 697.8,1649.6 705.8,1697.7 713.9,1695.4 722.0,1649.6 730.0,1716.0 738.1,1649.6 746.2,1700.0 754.3,1649.6 762.3,1700.0 770.4,1649.6 778.5,1789.2 786.6,1791.5 794.6,1759.4 802.7,1695.4 810.8,1649.6 818.9,1551.3 826.9,1649.6 835.0,1649.6 843.1,1718.2 851.2,1693.1 859.2,1693.1 867.3,1586.7 875.4,1649.6 883.5,1649.6 891.5,1649.6 899.6,1622.2 907.7,1695.4 915.8,1777.7 923.8,1777.7 931.9,1695.4 940.0,1649.6 948.1,1567.3 956.1,1695.4 964.2,1695.4 972.3,1695.4 980.4,1649.6 988.4,1697.7 996.5,1645.0 1004.6,1649.6 1012.7,1667.9 1020.7,1677.1 1028.8,1649.6 1036.9,1649.6 1045.0,1635.9 1053.0,1649.6 1061.1,1672.5 1069.2,1690.8 1077.3,1704.5 1085.3,1695.4 1093.4,1695.4 1101.5,1695.4 1109.6,1695.4 1117.7,1663.3 1125.7,1649.6 1133.8,1649.6 1141.9,1665.6 1149.9,1681.7 1158.0,1649.6 1166.1,1592.4 1174.2,1560.4 1182.2,1649.6 1190.3,1700.0 1198.4,1695.4 1206.5,1661.1 1214.5,1700.0 1222.6,1700.0 1230.7,1647.3 1238.8,1674.8 1246.8,1649.6 1254.9,1645.0 1263.0,1695.4 1271.1,1718.2 1279.1,1608.5 1287.2,1651.9 1295.3,1640.5 1303.4,1633.6 1311.4,1697.7 1319.5,1629.0 1327.6,1638.2 1335.7,1695.4 1343.8,1704.5 1351.8,1645.0 1359.9,1752.6 1368.0,1574.1 1376.0,1601.6 1384.1,1695.4 1392.2,1661.1 1400.3,1695.4 1408.3,1704.5 1416.4,1773.2 1424.5,1693.1 1432.6,1690.8 1440.6,1706.8 1448.7,1695.4 1456.8,1649.6 1464.9,1695.4 1472.9,1693.1 1481.0,1775.4 1489.1,1649.6 1497.2,1748.0 1505.2,1766.3 1513.3,1695.4 1521.4,1647.3 1529.5,1736.5 1537.5,1649.6 1545.6,1649.6 1553.7,1562.7 1561.8,1672.5 1569.8,1677.1 1577.9,1697.7 1586.0,1647.3 1594.1,1702.2 1602.1,1647.3 1610.2,1649.6 1618.3,1649.6 1626.4,1567.3 1634.4,1608.5 1642.5,1700.0 1650.6,1683.9 1658.7,1695.4 1666.7,1633.6 1674.8,1704.5 1682.9,1645.0 1691.0,1761.7 1699.0,1695.4 1707.1,1649.6 1715.2,1700.0 1723.3,1649.6 1731.3,1649.6 1739.4,1649.6 1747.5,1649.6 1755.6,1649.6 1763.6,1693.1 1771.7,1677.1 1779.8,1695.4 1787.9,1700.0 1795.9,1654.2 1804.0,1647.3 1812.1,1665.6 1820.2,1672.5 1828.2,1700.0 1836.3,1649.6 1844.4,1649.6 1852.5,1578.7 1860.5,1672.5 1868.6,1599.3 1876.7,1674.8 1884.8,1649.6 1892.8,1656.5 1900.9,1555.8 1909.0,1649.6 1917.1,1700.0 1925.1,1690.8 1933.2,1645.0 1941.3,1645.0 1949.4,1674.8 1957.4,1647.3 1965.5,1702.2 1973.6,1626.8 1981.7,1702.2 1989.7,1615.3 1997.8,1700.0 2005.9,1702.2 2014.0,1592.4 2022.0,1651.9 2030.1,1741.1 2038.2,1649.6 2046.3,1647.3 2054.3,1645.0 2062.4,1674.8" fill="none" stroke="#00f" stroke-width="9" stroke-linejoin="round" stroke-linecap="round"/>
<path d="M291.1 1695.4L302.1 1684.4L313.1 1695.4L302.1 1706.4Z" fill="#00f"/>
<path d="M299.1 1695.4L310.1 1684.4L321.1 1695.4L310.1 1706.4Z" fill="#00f"/>
<path d="M307.2 1649.6L318.2 1638.6L329.2 1649.6L318.2 1660.6Z" fill="#00f"/>
<path d="M315.3 1633.6L326.3 1622.6L337.3 1633.6L326.3 1644.6Z" fill="#00f"/>
<path d="M323.4 1649.6L334.4 1638.6L345.4 1649.6L334.4 1660.6Z" fill="#00f"/>
<path d="M331.4 1649.6L342.4 1638.6L353.4 1649.6L342.4 1660.6Z" fill="#00f"/>
<path d="M339.5 1649.6L350.5 1638.6L361.5 1649.6L350.5 1660.6Z" fill="#00f"/>
<path d="M347.6 1649.6L358.6 1638.6L369.6 1649.6L358.6 1660.6Z" fill="#00f"/>
<path d="M355.7 1649.6L366.7 1638.6L377.7 1649.6L366.7 1660.6Z" fill="#00f"/>
<path d="M363.8 1649.6L374.8 1638.6L385.8 1649.6L374.8 1660.6Z" fill="#00f"/>
<path d="M371.8 1782.3L382.8 1771.3L393.8 1782.3L382.8 1793.3Z" fill="#00f"/>
<path d="M379.9 1649.6L390.9 1638.6L401.9 1649.6L390.9 1660.6Z" fill="#00f"/>
<path d="M388.0 1613.0L399.0 1602.0L410.0 1613.0L399.0 1624.0Z" fill="#00f"/>
<path d="M396.0 1832.6L407.0 1821.6L418.0 1832.6L407.0 1843.6Z" fill="#00f"/>
<path d="M404.1 1649.6L415.1 1638.6L426.1 1649.6L415.1 1660.6Z" fill="#00f"/>
<path d="M412.2 1649.6L423.2 1638.6L434.2 1649.6L423.2 1660.6Z" fill="#00f"/>
<path d="M420.3 1649.6L431.3 1638.6L442.3 1649.6L431.3 1660.6Z" fill="#00f"/>
<path d="M428.4 1761.7L439.4 1750.7L450.4 1761.7L439.4 1772.7Z" fill="#00f"/>
<path d="M436.4 1683.9L447.4 1672.9L458.4 1683.9L447.4 1694.9Z" fill="#00f"/>
<path d="M444.5 1651.9L455.5 1640.9L466.5 1651.9L455.5 1662.9Z" fill="#00f"/>
<path d="M452.6 1677.1L463.6 1666.1L474.6 1677.1L463.6 1688.1Z" fill="#00f"/>
<path d="M460.6 1702.2L471.6 1691.2L482.6 1702.2L471.6 1713.2Z" fill="#00f"/>
<path d="M468.7 1720.5L479.7 1709.5L490.7 1720.5L479.7 1731.5Z" fill="#00f"/>
<path d="M476.8 1649.6L487.8 1638.6L498.8 1649.6L487.8 1660.6Z" fill="#00f"/>
<path d="M484.9 1661.1L495.9 1650.1L506.9 1661.1L495.9 1672.1Z" fill="#00f"/>
<path d="M492.9 1656.5L503.9 1645.5L515.0 1656.5L503.9 1667.5Z" fill="#00f"/>
<path d="M501.0 1679.4L512.0 1668.4L523.0 1679.4L512.0 1690.4Z" fill="#00f"/>
<path d="M509.1 1738.8L520.1 1727.8L531.1 1738.8L520.1 1749.8Z" fill="#00f"/>
<path d="M517.2 1679.4L528.2 1668.4L539.2 1679.4L528.2 1690.4Z" fill="#00f"/>
<path d="M525.2 1672.5L536.2 1661.5L547.2 1672.5L536.2 1683.5Z" fill="#00f"/>
<path d="M533.3 1700.0L544.3 1689.0L555.3 1700.0L544.3 1711.0Z" fill="#00f"/>
<path d="M541.4 1647.3L552.4 1636.3L563.4 1647.3L552.4 1658.3Z" fill="#00f"/>
<path d="M549.5 1663.3L560.5 1652.3L571.5 1663.3L560.5 1674.3Z" fill="#00f"/>
<path d="M557.5 1697.7L568.5 1686.7L579.5 1697.7L568.5 1708.7Z" fill="#00f"/>
<path d="M565.6 1649.6L576.6 1638.6L587.6 1649.6L576.6 1660.6Z" fill="#00f"/>
<path d="M573.7 1574.1L584.7 1563.1L595.7 1574.1L584.7 1585.1Z" fill="#00f"/>
<path d="M581.8 1654.2L592.8 1643.2L603.8 1654.2L592.8 1665.2Z" fill="#00f"/>
<path d="M589.8 1672.5L600.8 1661.5L611.8 1672.5L600.8 1683.5Z" fill="#00f"/>
<path d="M597.9 1697.7L608.9 1686.7L619.9 1697.7L608.9 1708.7Z" fill="#00f"/>
<path d="M606.0 1647.3L617.0 1636.3L628.0 1647.3L617.0 1658.3Z" fill="#00f"/>
<path d="M614.1 1697.7L625.1 1686.7L636.1 1697.7L625.1 1708.7Z" fill="#00f"/>
<path d="M622.1 1649.6L633.1 1638.6L644.1 1649.6L633.1 1660.6Z" fill="#00f"/>
<path d="M630.2 1649.6L641.2 1638.6L652.2 1649.6L641.2 1660.6Z" fill="#00f"/>
<path d="M638.3 1649.6L649.3 1638.6L660.3 1649.6L649.3 1660.6Z" fill="#00f"/>
<path d="M646.4 1649.6L657.4 1638.6L668.4 1649.6L657.4 1660.6Z" fill="#00f"/>
<path d="M654.5 1649.6L665.5 1638.6L676.5 1649.6L665.5 1660.6Z" fill="#00f"/>
<path d="M662.5 1649.6L673.5 1638.6L684.5 1649.6L673.5 1660.6Z" fill="#00f"/>
<path d="M670.6 1649.6L681.6 1638.6L692.6 1649.6L681.6 1660.6Z" fill="#00f"/>
<path d="M678.7 1649.6L689.7 1638.6L700.7 1649.6L689.7 1660.6Z" fill="#00f"/>
<path d="M686.8 1649.6L697.8 1638.6L708.8 1649.6L697.8 1660.6Z" fill="#00f"/>
<path d="M694.8 1697.7L705.8 1686.7L716.8 1697.7L705.8 1708.7Z" fill="#00f"/>
<path d="M702.9 1695.4L713.9 1684.4L724.9 1695.4L713.9 1706.4Z" fill="#00f"/>
<path d="M711.0 1649.6L722.0 1638.6L733.0 1649.6L722.0 1660.6Z" fill="#00f"/>
<path d="M719.0 1716.0L730.0 1705.0L741.0 1716.0L730.0 1727.0Z" fill="#00f"/>
<path d="M727.1 1649.6L738.1 1638.6L749.1 1649.6L738.1 1660.6Z" fill="#00f"/>
<path d="M735.2 1700.0L746.2 1689.0L757.2 1700.0L746.2 1711.0Z" fill="#00f"/>
<path d="M743.3 1649.6L754.3 1638.6L765.3 1649.6L754.3 1660.6Z" fill="#00f"/>
<path d="M751.3 1700.0L762.3 1689.0L773.3 1700.0L762.3 1711.0Z" fill="#00f"/>
<path d="M759.4 1649.6L770.4 1638.6L781.4 1649.6L770.4 1660.6Z" fill="#00f"/>
<path d="M767.5 1789.2L778.5 1778.2L789.5 1789.2L778.5 1800.2Z" fill="#00f"/>
<path d="M775.6 1791.5L786.6 1780.5L797.6 1791.5L786.6 1802.5Z" fill="#00f"/>
<path d="M783.6 1759.4L794.6 1748.4L805.6 1759.4L794.6 1770.4Z" fill="#00f"/>
<path d="M791.7 1695.4L802.7 1684.4L813.7 1695.4L802.7 1706.4Z" fill="#00f"/>
<path d="M799.8 1649.6L810.8 1638.6L821.8 1649.6L810.8 1660.6Z" fill="#00f"/>
<path d="M807.9 1551.3L818.9 1540.3L829.9 1551.3L818.9 1562.3Z" fill="#00f"/>
<path d="M815.9 1649.6L826.9 1638.6L837.9 1649.6L826.9 1660.6Z" fill="#00f"/>
<path d="M824.0 1649.6L835.0 1638.6L846.0 1649.6L835.0 1660.6Z" fill="#00f"/>
<path d="M832.1 1718.2L843.1 1707.2L854.1 1718.2L843.1 1729.2Z" fill="#00f"/>
<path d="M840.2 1693.1L851.2 1682.1L862.2 1693.1L851.2 1704.1Z" fill="#00f"/>
<path d="M848.2 1693.1L859.2 1682.1L870.2 1693.1L859.2 1704.1Z" fill="#00f"/>
<path d="M856.3 1586.7L867.3 1575.7L878.3 1586.7L867.3 1597.7Z" fill="#00f"/>
<path d="M864.4 1649.6L875.4 1638.6L886.4 1649.6L875.4 1660.6Z" fill="#00f"/>
<path d="M872.5 1649.6L883.5 1638.6L894.5 1649.6L883.5 1660.6Z" fill="#00f"/>
<path d="M880.5 1649.6L891.5 1638.6L902.5 1649.6L891.5 1660.6Z" fill="#00f"/>
<path d="M888.6 1622.2L899.6 1611.2L910.6 1622.2L899.6 1633.2Z" fill="#00f"/>
<path d="M896.7 1695.4L907.7 1684.4L918.7 1695.4L907.7 1706.4Z" fill="#00f"/>
<path d="M904.8 1777.7L915.8 1766.7L926.8 1777.7L915.8 1788.7Z" fill="#00f"/>
<path d="M912.8 1777.7L923.8 1766.7L934.8 1777.7L923.8 1788.7Z" fill="#00f"/>
<path d="M920.9 1695.4L931.9 1684.4L942.9 1695.4L931.9 1706.4Z" fill="#00f"/>
<path d="M929.0 1649.6L940.0 1638.6L951.0 1649.6L940.0 1660.6Z" fill="#00f"/>
<path d="M937.1 1567.3L948.1 1556.3L959.1 1567.3L948.1 1578.3Z" fill="#00f"/>
<path d="M945.1 1695.4L956.1 1684.4L967.1 1695.4L956.1 1706.4Z" fill="#00f"/>
<path d="M953.2 1695.4L964.2 1684.4L975.2 1695.4L964.2 1706.4Z" fill="#00f"/>
<path d="M961.3 1695.4L972.3 1684.4L983.3 1695.4L972.3 1706.4Z" fill="#00f"/>
<path d="M969.4 1649.6L980.4 1638.6L991.4 1649.6L980.4 1660.6Z" fill="#00f"/>
<path d="M977.4 1697.7L988.4 1686.7L999.4 1697.7L988.4 1708.7Z" fill="#00f"/>
<path d="M985.5 1645.0L996.5 1634.0L1007.5 1645.0L996.5 1656.0Z" fill="#00f"/>
<path d="M993.6 1649.6L1004.6 1638.6L1015.6 1649.6L1004.6 1660.6Z" fill="#00f"/>
<path d="M1001.7 1667.9L1012.7 1656.9L1023.7 1667.9L1012.7 1678.9Z" fill="#00f"/>
<path d="M1009.7 1677.1L1020.7 1666.1L1031.8 1677.1L1020.7 1688.1Z" fill="#00f"/>
<path d="M1017.8 1649.6L1028.8 1638.6L1039.8 1649.6L1028.8 1660.6Z" fill="#00f"/>
<path d="M1025.9 1649.6L1036.9 1638.6L1047.9 1649.6L1036.9 1660.6Z" fill="#00f"/>
<path d="M1034.0 1635.9L1045.0 1624.9L1056.0 1635.9L1045.0 1646.9Z" fill="#00f"/>
<path d="M1042.0 1649.6L1053.0 1638.6L1064.0 1649.6L1053.0 1660.6Z" fill="#00f"/>
<path d="M1050.1 1672.5L1061.1 1661.5L1072.1 1672.5L1061.1 1683.5Z" fill="#00f"/>
<path d="M1058.2 1690.8L1069.2 1679.8L1080.2 1690.8L1069.2 1701.8Z" fill="#00f"/>
<path d="M1066.3 1704.5L1077.3 1693.5L1088.3 1704.5L1077.3 1715.5Z" fill="#00f"/>
<path d="M1074.3 1695.4L1085.3 1684.4L1096.3 1695.4L1085.3 1706.4Z" fill="#00f"/>
<path d="M1082.4 1695.4L1093.4 1684.4L1104.4 1695.4L1093.4 1706.4Z" fill="#00f"/>
<path d="M1090.5 1695.4L1101.5 1684.4L1112.5 1695.4L1101.5 1706.4Z" fill="#00f"/>
<path d="M1098.6 1695.4L1109.6 1684.4L1120.6 1695.4L1109.6 1706.4Z" fill="#00f"/>
<path d="M1106.7 1663.3L1117.7 1652.3L1128.7 1663.3L1117.7 1674.3Z" fill="#00f"/>
<path d="M1114.7 1649.6L1125.7 1638.6L1136.7 1649.6L1125.7 1660.6Z" fill="#00f"/>
<path d="M1122.8 1649.6L1133.8 1638.6L1144.8 1649.6L1133.8 1660.6Z" fill="#00f"/>
<path d="M1130.9 1665.6L1141.9 1654.6L1152.9 1665.6L1141.9 1676.6Z" fill="#00f"/>
<path d="M1138.9 1681.7L1149.9 1670.7L1160.9 1681.7L1149.9 1692.7Z" fill="#00f"/>
<path d="M1147.0 1649.6L1158.0 1638.6L1169.0 1649.6L1158.0 1660.6Z" fill="#00f"/>
<path d="M1155.1 1592.4L1166.1 1581.4L1177.1 1592.4L1166.1 1603.4Z" fill="#00f"/>
<path d="M1163.2 1560.4L1174.2 1549.4L1185.2 1560.4L1174.2 1571.4Z" fill="#00f"/>
<path d="M1171.2 1649.6L1182.2 1638.6L1193.2 1649.6L1182.2 1660.6Z" fill="#00f"/>
<path d="M1179.3 1700.0L1190.3 1689.0L1201.3 1700.0L1190.3 1711.0Z" fill="#00f"/>
<path d="M1187.4 1695.4L1198.4 1684.4L1209.4 1695.4L1198.4 1706.4Z" fill="#00f"/>
<path d="M1195.5 1661.1L1206.5 1650.1L1217.5 1661.1L1206.5 1672.1Z" fill="#00f"/>
<path d="M1203.5 1700.0L1214.5 1689.0L1225.5 1700.0L1214.5 1711.0Z" fill="#00f"/>
<path d="M1211.6 1700.0L1222.6 1689.0L1233.6 1700.0L1222.6 1711.0Z" fill="#00f"/>
<path d="M1219.7 1647.3L1230.7 1636.3L1241.7 1647.3L1230.7 1658.3Z" fill="#00f"/>
<path d="M1227.8 1674.8L1238.8 1663.8L1249.8 1674.8L1238.8 1685.8Z" fill="#00f"/>
<path d="M1235.8 1649.6L1246.8 1638.6L1257.8 1649.6L1246.8 1660.6Z" fill="#00f"/>
<path d="M1243.9 1645.0L1254.9 1634.0L1265.9 1645.0L1254.9 1656.0Z" fill="#00f"/>
<path d="M1252.0 1695.4L1263.0 1684.4L1274.0 1695.4L1263.0 1706.4Z" fill="#00f"/>
<path d="M1260.1 1718.2L1271.1 1707.2L1282.1 1718.2L1271.1 1729.2Z" fill="#00f"/>
<path d="M1268.1 1608.5L1279.1 1597.5L1290.1 1608.5L1279.1 1619.5Z" fill="#00f"/>
<path d="M1276.2 1651.9L1287.2 1640.9L1298.2 1651.9L1287.2 1662.9Z" fill="#00f"/>
<path d="M1284.3 1640.5L1295.3 1629.5L1306.3 1640.5L1295.3 1651.5Z" fill="#00f"/>
<path d="M1292.4 1633.6L1303.4 1622.6L1314.4 1633.6L1303.4 1644.6Z" fill="#00f"/>
<path d="M1300.4 1697.7L1311.4 1686.7L1322.4 1697.7L1311.4 1708.7Z" fill="#00f"/>
<path d="M1308.5 1629.0L1319.5 1618.0L1330.5 1629.0L1319.5 1640.0Z" fill="#00f"/>
<path d="M1316.6 1638.2L1327.6 1627.2L1338.6 1638.2L1327.6 1649.2Z" fill="#00f"/>
<path d="M1324.7 1695.4L1335.7 1684.4L1346.7 1695.4L1335.7 1706.4Z" fill="#00f"/>
<path d="M1332.8 1704.5L1343.8 1693.5L1354.8 1704.5L1343.8 1715.5Z" fill="#00f"/>
<path d="M1340.8 1645.0L1351.8 1634.0L1362.8 1645.0L1351.8 1656.0Z" fill="#00f"/>
<path d="M1348.9 1752.6L1359.9 1741.6L1370.9 1752.6L1359.9 1763.6Z" fill="#00f"/>
<path d="M1357.0 1574.1L1368.0 1563.1L1379.0 1574.1L1368.0 1585.1Z" fill="#00f"/>
<path d="M1365.0 1601.6L1376.0 1590.6L1387.0 1601.6L1376.0 1612.6Z" fill="#00f"/>
<path d="M1373.1 1695.4L1384.1 1684.4L1395.1 1695.4L1384.1 1706.4Z" fill="#00f"/>
<path d="M1381.2 1661.1L1392.2 1650.1L1403.2 1661.1L1392.2 1672.1Z" fill="#00f"/>
<path d="M1389.3 1695.4L1400.3 1684.4L1411.3 1695.4L1400.3 1706.4Z" fill="#00f"/>
<path d="M1397.3 1704.5L1408.3 1693.5L1419.3 1704.5L1408.3 1715.5Z" fill="#00f"/>
<path d="M1405.4 1773.2L1416.4 1762.2L1427.4 1773.2L1416.4 1784.2Z" fill="#00f"/>
<path d="M1413.5 1693.1L1424.5 1682.1L1435.5 1693.1L1424.5 1704.1Z" fill="#00f"/>
<path d="M1421.6 1690.8L1432.6 1679.8L1443.6 1690.8L1432.6 1701.8Z" fill="#00f"/>
<path d="M1429.6 1706.8L1440.6 1695.8L1451.6 1706.8L1440.6 1717.8Z" fill="#00f"/>
<path d="M1437.7 1695.4L1448.7 1684.4L1459.7 1695.4L1448.7 1706.4Z" fill="#00f"/>
<path d="M1445.8 1649.6L1456.8 1638.6L1467.8 1649.6L1456.8 1660.6Z" fill="#00f"/>
<path d="M1453.9 1695.4L1464.9 1684.4L1475.9 1695.4L1464.9 1706.4Z" fill="#00f"/>
<path d="M1461.9 1693.1L1472.9 1682.1L1483.9 1693.1L1472.9 1704.1Z" fill="#00f"/>
<path d="M1470.0 1775.4L1481.0 1764.4L1492.0 1775.4L1481.0 1786.4Z" fill="#00f"/>
<path d="M1478.1 1649.6L1489.1 1638.6L1500.1 1649.6L1489.1 1660.6Z" fill="#00f"/>
<path d="M1486.2 1748.0L1497.2 1737.0L1508.2 1748.0L1497.2 1759.0Z" fill="#00f"/>
<path d="M1494.2 1766.3L1505.2 1755.3L1516.2 1766.3L1505.2 1777.3Z" fill="#00f"/>
<path d="M1502.3 1695.4L1513.3 1684.4L1524.3 1695.4L1513.3 1706.4Z" fill="#00f"/>
<path d="M1510.4 1647.3L1521.4 1636.3L1532.4 1647.3L1521.4 1658.3Z" fill="#00f"/>
<path d="M1518.5 1736.5L1529.5 1725.5L1540.5 1736.5L1529.5 1747.5Z" fill="#00f"/>
<path d="M1526.5 1649.6L1537.5 1638.6L1548.5 1649.6L1537.5 1660.6Z" fill="#00f"/>
<path d="M1534.6 1649.6L1545.6 1638.6L1556.6 1649.6L1545.6 1660.6Z" fill="#00f"/>
<path d="M1542.7 1562.7L1553.7 1551.7L1564.7 1562.7L1553.7 1573.7Z" fill="#00f"/>
<path d="M1550.8 1672.5L1561.8 1661.5L1572.8 1672.5L1561.8 1683.5Z" fill="#00f"/>
<path d="M1558.8 1677.1L1569.8 1666.1L1580.8 1677.1L1569.8 1688.1Z" fill="#00f"/>
<path d="M1566.9 1697.7L1577.9 1686.7L1588.9 1697.7L1577.9 1708.7Z" fill="#00f"/>
<path d="M1575.0 1647.3L1586.0 1636.3L1597.0 1647.3L1586.0 1658.3Z" fill="#00f"/>
<path d="M1583.1 1702.2L1594.1 1691.2L1605.1 1702.2L1594.1 1713.2Z" fill="#00f"/>
<path d="M1591.1 1647.3L1602.1 1636.3L1613.1 1647.3L1602.1 1658.3Z" fill="#00f"/>
<path d="M1599.2 1649.6L1610.2 1638.6L1621.2 1649.6L1610.2 1660.6Z" fill="#00f"/>
<path d="M1607.3 1649.6L1618.3 1638.6L1629.3 1649.6L1618.3 1660.6Z" fill="#00f"/>
<path d="M1615.4 1567.3L1626.4 1556.3L1637.4 1567.3L1626.4 1578.3Z" fill="#00f"/>
<path d="M1623.4 1608.5L1634.4 1597.5L1645.4 1608.5L1634.4 1619.5Z" fill="#00f"/>
<path d="M1631.5 1700.0L1642.5 1689.0L1653.5 1700.0L1642.5 1711.0Z" fill="#00f"/>
<path d="M1639.6 1683.9L1650.6 1672.9L1661.6 1683.9L1650.6 1694.9Z" fill="#00f"/>
<path d="M1647.7 1695.4L1658.7 1684.4L1669.7 1695.4L1658.7 1706.4Z" fill="#00f"/>
<path d="M1655.7 1633.6L1666.7 1622.6L1677.7 1633.6L1666.7 1644.6Z" fill="#00f"/>
<path d="M1663.8 1704.5L1674.8 1693.5L1685.8 1704.5L1674.8 1715.5Z" fill="#00f"/>
<path d="M1671.9 1645.0L1682.9 1634.0L1693.9 1645.0L1682.9 1656.0Z" fill="#00f"/>
<path d="M1680.0 1761.7L1691.0 1750.7L1702.0 1761.7L1691.0 1772.7Z" fill="#00f"/>
<path d="M1688.0 1695.4L1699.0 1684.4L1710.0 1695.4L1699.0 1706.4Z" fill="#00f"/>
<path d="M1696.1 1649.6L1707.1 1638.6L1718.1 1649.6L1707.1 1660.6Z" fill="#00f"/>
<path d="M1704.2 1700.0L1715.2 1689.0L1726.2 1700.0L1715.2 1711.0Z" fill="#00f"/>
<path d="M1712.3 1649.6L1723.3 1638.6L1734.3 1649.6L1723.3 1660.6Z" fill="#00f"/>
<path d="M1720.3 1649.6L1731.3 1638.6L1742.3 1649.6L1731.3 1660.6Z" fill="#00f"/>
<path d="M1728.4 1649.6L1739.4 1638.6L1750.4 1649.6L1739.4 1660.6Z" fill="#00f"/>
<path d="M1736.5 1649.6L1747.5 1638.6L1758.5 1649.6L1747.5 1660.6Z" fill="#00f"/>
<path d="M1744.6 1649.6L1755.6 1638.6L1766.6 1649.6L1755.6 1660.6Z" fill="#00f"/>
<path d="M1752.6 1693.1L1763.6 1682.1L1774.6 1693.1L1763.6 1704.1Z" fill="#00f"/>
<path d="M1760.7 1677.1L1771.7 1666.1L1782.7 1677.1L1771.7 1688.1Z" fill="#00f"/>
<path d="M1768.8 1695.4L1779.8 1684.4L1790.8 1695.4L1779.8 1706.4Z" fill="#00f"/>
<path d="M1776.9 1700.0L1787.9 1689.0L1798.9 1700.0L1787.9 1711.0Z" fill="#00f"/>
<path d="M1784.9 1654.2L1795.9 1643.2L1806.9 1654.2L1795.9 1665.2Z" fill="#00f"/>
<path d="M1793.0 1647.3L1804.0 1636.3L1815.0 1647.3L1804.0 1658.3Z" fill="#00f"/>
<path d="M1801.1 1665.6L1812.1 1654.6L1823.1 1665.6L1812.1 1676.6Z" fill="#00f"/>
<path d="M1809.2 1672.5L1820.2 1661.5L1831.2 1672.5L1820.2 1683.5Z" fill="#00f"/>
<path d="M1817.2 1700.0L1828.2 1689.0L1839.2 1700.0L1828.2 1711.0Z" fill="#00f"/>
<path d="M1825.3 1649.6L1836.3 1638.6L1847.3 1649.6L1836.3 1660.6Z" fill="#00f"/>
<path d="M1833.4 1649.6L1844.4 1638.6L1855.4 1649.6L1844.4 1660.6Z" fill="#00f"/>
<path d="M1841.5 1578.7L1852.5 1567.7L1863.5 1578.7L1852.5 1589.7Z" fill="#00f"/>
<path d="M1849.5 1672.5L1860.5 1661.5L1871.5 1672.5L1860.5 1683.5Z" fill="#00f"/>
<path d="M1857.6 1599.3L1868.6 1588.3L1879.6 1599.3L1868.6 1610.3Z" fill="#00f"/>
<path d="M1865.7 1674.8L1876.7 1663.8L1887.7 1674.8L1876.7 1685.8Z" fill="#00f"/>
<path d="M1873.8 1649.6L1884.8 1638.6L1895.8 1649.6L1884.8 1660.6Z" fill="#00f"/>
<path d="M1881.8 1656.5L1892.8 1645.5L1903.8 1656.5L1892.8 1667.5Z" fill="#00f"/>
<path d="M1889.9 1555.8L1900.9 1544.8L1911.9 1555.8L1900.9 1566.8Z" fill="#00f"/>
<path d="M1898.0 1649.6L1909.0 1638.6L1920.0 1649.6L1909.0 1660.6Z" fill="#00f"/>
<path d="M1906.1 1700.0L1917.1 1689.0L1928.1 1700.0L1917.1 1711.0Z" fill="#00f"/>
<path d="M1914.1 1690.8L1925.1 1679.8L1936.1 1690.8L1925.1 1701.8Z" fill="#00f"/>
<path d="M1922.2 1645.0L1933.2 1634.0L1944.2 1645.0L1933.2 1656.0Z" fill="#00f"/>
<path d="M1930.3 1645.0L1941.3 1634.0L1952.3 1645.0L1941.3 1656.0Z" fill="#00f"/>
<path d="M1938.4 1674.8L1949.4 1663.8L1960.4 1674.8L1949.4 1685.8Z" fill="#00f"/>
<path d="M1946.4 1647.3L1957.4 1636.3L1968.4 1647.3L1957.4 1658.3Z" fill="#00f"/>
<path d="M1954.5 1702.2L1965.5 1691.2L1976.5 1702.2L1965.5 1713.2Z" fill="#00f"/>
<path d="M1962.6 1626.8L1973.6 1615.8L1984.6 1626.8L1973.6 1637.8Z" fill="#00f"/>
<path d="M1970.7 1702.2L1981.7 1691.2L1992.7 1702.2L1981.7 1713.2Z" fill="#00f"/>
<path d="M1978.7 1615.3L1989.7 1604.3L2000.7 1615.3L1989.7 1626.3Z" fill="#00f"/>
<path d="M1986.8 1700.0L1997.8 1689.0L2008.8 1700.0L1997.8 1711.0Z" fill="#00f"/>
<path d="M1994.9 1702.2L2005.9 1691.2L2016.9 1702.2L2005.9 1713.2Z" fill="#00f"/>
<path d="M2003.0 1592.4L2014.0 1581.4L2025.0 1592.4L2014.0 1603.4Z" fill="#00f"/>
<path d="M2011.0 1651.9L2022.0 1640.9L2033.0 1651.9L2022.0 1662.9Z" fill="#00f"/>
<path d="M2019.1 1741.1L2030.1 1730.1L2041.1 1741.1L2030.1 1752.1Z" fill="#00f"/>
<path d="M2027.2 1649.6L2038.2 1638.6L2049.2 1649.6L2038.2 1660.6Z" fill="#00f"/>
<path d="M2035.3 1647.3L2046.3 1636.3L2057.3 1647.3L2046.3 1658.3Z" fill="#00f"/>
<path d="M2043.3 1645.0L2054.3 1634.0L2065.3 1645.0L2054.3 1656.0Z" fill="#00f"/>
<path d="M2051.4 1674.8L2062.4 1663.8L2073.4 1674.8L2062.4 1685.8Z" fill="#00f"/>
</g>
<rect x="212" y="62" width="1938" height="1142.5" fill="none" stroke="#000" stroke-width="8"/>
<path d="M213.5 1901L213.5 1392" fill="none" stroke="#000" stroke-width="7.5"/>
<path d="M209.8 1392L2150 1392L2150 1901L209.8 1901" fill="none" stroke="#000" stroke-width="8.5" stroke-linejoin="miter"/>
<g id="ticklabels" class="tk">
<text x="187" y="1222.0" text-anchor="end">11</text>
<text x="187" y="994.2" text-anchor="end">12</text>
<text x="187" y="766.4" text-anchor="end">13</text>
<text x="187" y="538.6" text-anchor="end">14</text>
<text x="187" y="310.8" text-anchor="end">15</text>
<text x="187" y="83.0" text-anchor="end">16</text>
<text x="187" y="1463.2" text-anchor="end">1</text>
<text x="187" y="1692.0" text-anchor="end">0</text>
<text x="187" y="1920.8" text-anchor="end">−1</text>
<text x="294.0" y="1280" text-anchor="middle">0</text>
<text x="294.0" y="1976" text-anchor="middle">0</text>
<text x="697.8" y="1280" text-anchor="middle">50</text>
<text x="697.8" y="1976" text-anchor="middle">50</text>
<text x="1101.5" y="1280" text-anchor="middle">100</text>
<text x="1101.5" y="1976" text-anchor="middle">100</text>
<text x="1505.2" y="1280" text-anchor="middle">150</text>
<text x="1505.2" y="1976" text-anchor="middle">150</text>
<text x="1909.0" y="1280" text-anchor="middle">200</text>
<text x="1909.0" y="1976" text-anchor="middle">200</text>
</g>
<text class="b" x="1103" y="1361" font-size="60" text-anchor="middle">Training data group</text>
<text class="b" x="1182.5" y="2036" font-size="60" text-anchor="middle">Training data group</text>
<text class="b" transform="translate(83,995.5) rotate(-90)" font-size="81.2" text-anchor="middle">Screening time of training data group t (s)</text>
<g id="legend-top">
<line x1="376.5" y1="111" x2="516" y2="111" stroke="#000" stroke-width="9"/>
<rect x="439" y="102" width="17.5" height="17.5" fill="#000"/>
<text class="b" x="528" y="130" font-size="59.6">EDEM experimental result</text>
<line x1="376.5" y1="185" x2="519" y2="185" stroke="#f00" stroke-width="8"/>
<circle cx="447.7" cy="185" r="8.5" fill="#f00"/>
<text class="b" x="516" y="204.5" font-size="59.6">Training results</text>
</g>
<g id="legend-bottom">
<line x1="474.5" y1="1456" x2="606" y2="1456" stroke="#00f" stroke-width="8"/>
<path d="M529 1456L540 1445L551 1456L540 1467Z" fill="#00f"/>
<text class="b" x="616" y="1470" font-size="53.8">Error between experimental results</text>
<text class="b" x="616" y="1539" font-size="53.8">and prediction results</text>
</g>
<text class="b" x="2076.5" y="149" font-size="94" letter-spacing="4" text-anchor="middle">(a)</text>
<text class="b" x="2075" y="1478" font-size="94" letter-spacing="3.5" text-anchor="middle">(b)</text>
</g>
</svg></body></html>
